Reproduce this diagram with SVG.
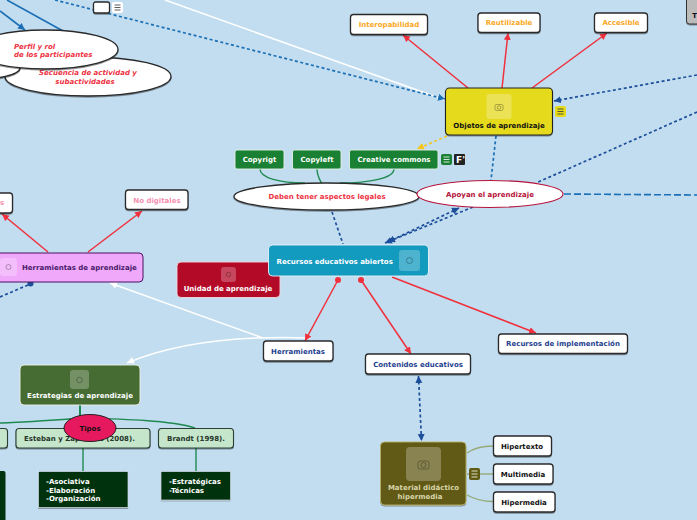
<svg xmlns="http://www.w3.org/2000/svg" width="697" height="520" viewBox="0 0 697 520">
<style>
text{font-family:"DejaVu Sans","Liberation Sans",sans-serif;font-weight:700;font-size:7px}
.m{text-anchor:middle}
.box{fill:#fff;stroke:#2a2a2a;stroke-width:1.3;filter:url(#sh)}
.s{filter:url(#sh)}
.red{fill:none;stroke:#f0303c;stroke-width:1.5}
.dot{fill:none;stroke:#1d4e9a;stroke-width:1.7;stroke-dasharray:3 2.5}
.dotb{fill:none;stroke:#1a6fb5;stroke-width:1.7;stroke-dasharray:3 2.5}
.wh{fill:none;stroke:#fff;stroke-width:1.6}
.gr{fill:none;stroke:#1f8a50;stroke-width:1.4}
.ol{fill:none;stroke:#95a97a;stroke-width:1.4}
.ic{fill:#fff;fill-opacity:.25}
.cam{fill:none;stroke:#000;stroke-opacity:.35;stroke-width:.8}
.or{fill:#f9a825}.pk{fill:#f48fb1}.nv{fill:#1f3f8f}.wt{fill:#fff}.bk{fill:#111}
.it{fill:#ee3344;font-style:italic}
.nt{fill:none;stroke:#fff;stroke-width:.8}
</style>
<defs>
<filter id="sh" x="-10%" y="-15%" width="120%" height="135%"><feDropShadow dx="0" dy="1" stdDeviation=".6" flood-color="#000" flood-opacity=".4"/></filter>
<marker id="ar" markerUnits="userSpaceOnUse" markerWidth="8" markerHeight="8" refX="7" refY="3.5" orient="auto"><path d="M0,0L7,3.5L0,7z" fill="#f0303c"/></marker>
<marker id="ad" markerUnits="userSpaceOnUse" markerWidth="8" markerHeight="8" refX="7" refY="3.5" orient="auto-start-reverse"><path d="M0,0L7,3.5L0,7z" fill="#1d4e9a"/></marker>
<marker id="ab" markerUnits="userSpaceOnUse" markerWidth="8" markerHeight="8" refX="7" refY="3.5" orient="auto"><path d="M0,0L7,3.5L0,7z" fill="#1a6fb5"/></marker>
<marker id="aw" markerUnits="userSpaceOnUse" markerWidth="8" markerHeight="8" refX="7" refY="3.5" orient="auto"><path d="M0,0L7,3.5L0,7z" fill="#fff"/></marker>
<marker id="ay" markerUnits="userSpaceOnUse" markerWidth="8" markerHeight="8" refX="7" refY="3.5" orient="auto"><path d="M0,0L7,3.5L0,7z" fill="#f5c518"/></marker>
</defs>
<rect width="697" height="520" fill="#c2ddf0"/>
<g id="connectors">
<path class="wh" d="M165,0L445,100"/>
<path class="dotb" d="M55,0L445,99" marker-end="url(#ab)"/>
<path d="M0,11L25,30" fill="none" stroke="#1a6fb5" stroke-width="1.6" marker-end="url(#ab)"/>
<path d="M7,0L63,31" fill="none" stroke="#1a6fb5" stroke-width="1.6"/>
<path class="red" d="M468,88L403,35" marker-end="url(#ar)"/>
<path class="red" d="M502,88L508,33" marker-end="url(#ar)"/>
<path class="red" d="M532,88L607,33" marker-end="url(#ar)"/>
<path class="dot" d="M697,75L554,101" marker-end="url(#ad)"/>
<path class="dot" d="M697,112L536,183"/>
<path class="dot" d="M473,207L385,243" marker-end="url(#ad)"/>
<path class="dotb" d="M496,136L491,180"/>
<path class="dot" d="M459,208L388,242" marker-start="url(#ad)" marker-end="url(#ad)"/>
<path d="M564,194L697,195" fill="none" stroke="#1a6fb5" stroke-width="1.6" stroke-dasharray="7 3"/>
<path d="M447,136L417,149" fill="none" stroke="#f5c518" stroke-width="1.6" stroke-dasharray="3 2.5" marker-end="url(#ay)"/>
<path class="gr" d="M260,169C260,178 280,183 305,183"/>
<path class="gr" d="M317,169C317,176 320,180 322,184"/>
<path class="gr" d="M394,169C394,178 370,183 340,183"/>
<path class="dot" d="M332,212L343,244"/>
<path class="red" d="M48,252L2,214" marker-end="url(#ar)"/>
<path class="red" d="M88,252L142,211" marker-end="url(#ar)"/>
<path class="dot" d="M0,297L28,285"/>
<circle cx="30.500" cy="283.500" r="3" fill="#1d4e9a"/>
<path class="wh" d="M263,338L110,283" marker-end="url(#aw)"/>
<path class="wh" d="M310,338C230,335 170,345 127,363" marker-end="url(#aw)"/>
<path class="red" d="M338,280L305,341" marker-end="url(#ar)"/>
<path class="red" d="M361,280L411,354" marker-end="url(#ar)"/>
<path class="red" d="M392,277L536,333" marker-end="url(#ar)"/>
<circle cx="338" cy="280" r="3" fill="#f0303c"/><circle cx="361" cy="280" r="3" fill="#f0303c"/>
<path class="dot" d="M418.5,376L421.5,441" marker-start="url(#ad)" marker-end="url(#ad)"/>
<path class="ol" d="M467,453C474,448 482,446 493,446"/>
<path class="ol" d="M467,474L493,474"/>
<path class="ol" d="M467,495C474,499 482,501.5 493,501.5"/>
<path d="M80,405V418" fill="none" stroke="#1f8a50" stroke-width="2"/>
<path class="gr" d="M80,418C50,421 20,422 0,423"/>
<path class="gr" d="M80,418C120,419 170,420 195,428"/>
<path class="gr" d="M83,448V471"/><path class="gr" d="M196,448V471"/>
</g>
<g id="n-top"><rect class="box" x="93.500" y="2" width="16" height="11" rx="2"/></g>
<g id="n-top-note"><rect x="112" y="2" width="11" height="11" rx="2" fill="#fff"/><path d="M114.500,5h6M114.500,7.500h6M114.500,10h6" stroke="#333" stroke-width=".8"/></g>
<g id="n-seq"><ellipse cx="88" cy="76.500" rx="83" ry="19.500" class="box"/><text class="it m" x="88" y="75">Secuencia de actividad y</text><text class="it m" x="85" y="84">subactividades</text></g>
<g id="n-small"><ellipse cx="-30" cy="68" rx="50" ry="12" class="box"/></g>
<g id="n-perfil"><ellipse cx="45" cy="49.500" rx="73" ry="19.500" class="box"/><text class="it" x="14" y="49">Perfil y rol</text><text class="it" x="14" y="57">de los participantes</text></g>
<g id="n-objetos"><rect class="s" x="445.500" y="88" width="107" height="47" rx="4" fill="#e5da1a" stroke="#222" stroke-width="1.1"/><rect class="ic" x="486.500" y="94" width="25" height="25" rx="3"/><rect class="cam" x="495" y="104.500" width="8" height="6" rx="1.500"/><circle class="cam" cx="499" cy="107.500" r="1.800"/><text class="m bk" x="499" y="128">Objetos de aprendizaje</text></g>
<g id="n-objnote"><rect x="555" y="106" width="11" height="11" rx="2" fill="#e5da1a"/><path d="M557.500,109h6M557.500,111.500h6M557.500,114h6" stroke="#333" stroke-width=".8"/></g>
<g id="n-inter"><rect class="box" x="350.500" y="14.500" width="77" height="20" rx="3"/><text class="m or" x="389" y="27">Interopabilidad</text></g>
<g id="n-reut"><rect class="box" x="478" y="13" width="62" height="19.500" rx="3"/><text class="m or" x="509" y="25">Reutilizable</text></g>
<g id="n-acc"><rect class="box" x="594.500" y="13" width="53" height="19.500" rx="3"/><text class="m or" x="621" y="25">Accesible</text></g>
<g id="n-grey"><rect class="s" x="686.500" y="-6" width="20" height="30" rx="3" fill="#bbb" stroke="#333"/><text class="bk" text-anchor="end" x="697" y="18">T</text></g>
<g id="n-copyrigt"><rect x="235" y="150" width="49" height="19" rx="2" fill="#1a8033" stroke="#e4efe9" stroke-width=".9"/><text class="m wt" x="259.500" y="162">Copyrigt</text></g>
<g id="n-copyleft"><rect x="292.500" y="150" width="48.500" height="19" rx="2" fill="#1a8033" stroke="#e4efe9" stroke-width=".9"/><text class="m wt" x="317" y="162">Copyleft</text></g>
<g id="n-cc"><rect x="349.500" y="150" width="88.500" height="19" rx="2" fill="#1a8033" stroke="#e4efe9" stroke-width=".9"/><text class="m wt" x="394" y="162">Creative commons</text></g>
<g id="n-ccnote"><rect x="441" y="154" width="11" height="11" rx="2" fill="#1a8033"/><path class="nt" d="M443.500,157h6M443.500,159.500h6M443.500,162h6"/></g>
<g id="n-ccf"><rect x="454" y="154" width="11" height="11" rx="1" fill="#222"/><text class="wt" x="456" y="163" style="font-size:9px">F'</text></g>
<g id="n-deben"><ellipse cx="326.500" cy="196.500" rx="92.500" ry="13.500" class="box"/><text class="m" fill="#ee3344" x="327" y="199">Deben tener aspectos legales</text></g>
<g id="n-apoyan"><ellipse cx="490" cy="194" rx="73" ry="13.500" fill="#fff" stroke="#b5123a" stroke-width="1.100"/><text class="m" fill="#b5123a" x="490" y="197">Apoyan el aprendizaje</text></g>
<g id="n-unidad"><rect x="177" y="262" width="103" height="35.500" rx="4" fill="#b30a28" stroke="#f0d8dc" stroke-width=".9"/><rect class="ic" x="221" y="267" width="15" height="15" rx="3"/><circle class="cam" cx="228.500" cy="274.500" r="2.200"/><text class="m wt" x="228" y="291">Unidad de aprendizaje</text></g>
<g id="n-rea"><rect x="268.500" y="245" width="160" height="31" rx="4" fill="#129abf" stroke="#e8f4f8" stroke-width=".9"/><rect class="ic" x="399" y="250" width="21" height="21" rx="3"/><circle class="cam" cx="409.500" cy="260.500" r="3"/><text class="wt" x="276.500" y="264">Recursos educativos abiertos</text></g>
<g id="n-herr"><rect x="-10" y="253" width="153" height="29" rx="4" fill="#f0a8fb" stroke="#4a1060" stroke-width="1"/><rect class="ic" x="0" y="258" width="17" height="18" rx="3"/><circle class="cam" cx="8.500" cy="267" r="2.500"/><text fill="#4a1a6a" x="22" y="270">Herramientas de aprendizaje</text></g>
<g id="n-digit"><rect class="box" x="-10" y="193" width="22.500" height="20" rx="3"/><text class="pk" x="0" y="205">s</text></g>
<g id="n-nodig"><rect class="box" x="125.500" y="190" width="62.500" height="19.500" rx="3"/><text class="m pk" x="157" y="203">No digitales</text></g>
<g id="n-herramientas"><rect class="box" x="263.500" y="341" width="69.500" height="20" rx="3"/><text class="m nv" x="298" y="354">Herramientas</text></g>
<g id="n-contenidos"><rect class="box" x="365.500" y="354" width="105" height="20" rx="3"/><text class="m nv" x="418" y="367">Contenidos educativos</text></g>
<g id="n-impl"><rect class="box" x="498.500" y="334" width="129" height="19.500" rx="3"/><text class="m nv" x="563" y="346">Recursos de implementación</text></g>
<g id="n-material"><rect class="s" x="380.500" y="442" width="85.500" height="63" rx="4" fill="#605a12" stroke="#b9b26a" stroke-width=".9"/><rect class="ic" x="406" y="447" width="35" height="34" rx="4"/><rect class="cam" x="418" y="461" width="11" height="8" rx="2"/><circle class="cam" cx="423.500" cy="465" r="2.500"/><text class="m" fill="#d8d4a8" x="423.500" y="490">Material didáctico</text><text class="m" fill="#d8d4a8" x="420" y="499">hipermedia</text></g>
<g id="n-matnote"><rect x="469" y="468" width="11" height="12" rx="2" fill="#605a12"/><path class="nt" d="M471.500,471h6M471.500,474h6M471.500,477h6"/></g>
<g id="n-hipertexto"><rect class="box" x="493.500" y="436" width="58" height="20" rx="3"/><text class="m bk" x="522" y="449">Hipertexto</text></g>
<g id="n-multimedia"><rect class="box" x="493.500" y="464" width="59.500" height="20" rx="3"/><text class="m bk" x="523" y="477">Multimedia</text></g>
<g id="n-hipermedia"><rect class="box" x="493.500" y="492" width="61.500" height="20" rx="3"/><text class="m bk" x="524" y="505">Hipermedia</text></g>
<g id="n-estrategias"><rect x="20" y="365" width="120" height="40" rx="4" fill="#466c33" stroke="#eef2e8" stroke-width=".9"/><rect class="ic" x="70" y="370" width="19" height="19" rx="3"/><circle class="cam" cx="79.500" cy="380" r="2.800"/><text class="m wt" x="80" y="398">Estrategias de aprendizaje</text></g>
<g id="n-izq"><rect class="s" x="-10" y="428.500" width="17.500" height="19.500" rx="3" fill="#c6e6cc" stroke="#2f3f36" stroke-width="1.100"/></g>
<g id="n-esteban"><rect class="s" x="16" y="428.500" width="134" height="19.500" rx="3" fill="#c6e6cc" stroke="#2f3f36" stroke-width="1.100"/><text fill="#25352a" x="24" y="441">Esteban y Zap<tspan dx="11">ata (2008).</tspan></text></g>
<g id="n-brandt"><rect class="s" x="158.500" y="428.500" width="75" height="19.500" rx="3" fill="#c6e6cc" stroke="#2f3f36" stroke-width="1.100"/><text class="m" fill="#25352a" x="196" y="441">Brandt (1998).</text></g>
<g id="n-tipos"><ellipse cx="90" cy="428" rx="26" ry="13.500" fill="#e6195e" stroke="#222" stroke-width="1"/><text class="m bk" x="90" y="431">Tipos</text></g>
<g id="n-dark1"><rect class="s" x="38.500" y="471.500" width="89.500" height="36" fill="#02330f" stroke="#eef" stroke-width=".6"/><text class="wt" x="46" y="484">-Asociativa</text><text class="wt" x="46" y="493">-Elaboración</text><text class="wt" x="46" y="501">-Organización</text></g>
<g id="n-dark2"><rect class="s" x="161" y="471.500" width="69.500" height="28.500" fill="#02330f" stroke="#eef" stroke-width=".6"/><text class="wt" x="169" y="484">-Estratégicas</text><text class="wt" x="169" y="493">-Técnicas</text></g>
<g id="n-dark0"><rect x="-10" y="471" width="15.500" height="60" rx="2" fill="#02330f"/></g>
</svg>
